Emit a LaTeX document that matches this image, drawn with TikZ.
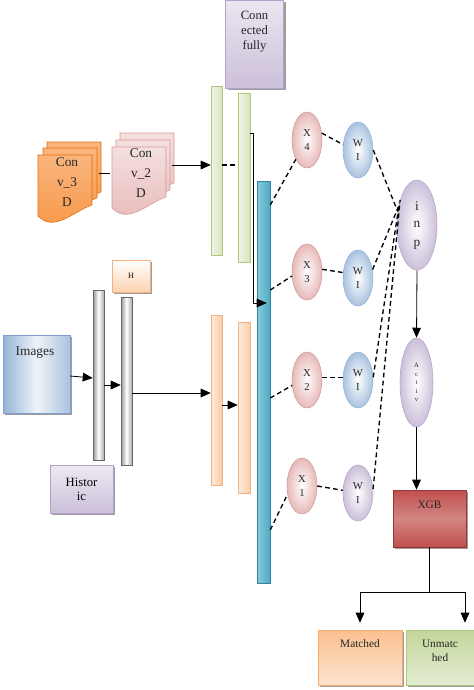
\documentclass[tikz,border=0pt]{standalone}
\usepackage{fontspec}
\setmainfont{Liberation Serif}
\usetikzlibrary{shapes.geometric, shadows, arrows.meta, calc}

\definecolor{lavfill}{HTML}{CCC0DA}
\definecolor{lavline}{HTML}{B3A2C7}
\definecolor{bluefill}{HTML}{95B3D7}
\definecolor{blueline}{HTML}{7F9FCF}
\definecolor{greenbar}{HTML}{D7E4BD}
\definecolor{greenline}{HTML}{9BBB59}
\definecolor{peachbar}{HTML}{FAC090}
\definecolor{peachline}{HTML}{F4B183}
\definecolor{cyanbar}{HTML}{4BACC6}
\definecolor{cyandark}{HTML}{31859C}
\definecolor{pinkfill}{HTML}{E6B9B8}
\definecolor{pinkline}{HTML}{D99694}
\definecolor{conv3}{HTML}{F79646}
\definecolor{conv3line}{HTML}{E46C0A}
\definecolor{xgbred}{HTML}{C0504D}
\definecolor{xgbline}{HTML}{953735}
\definecolor{unmfill}{HTML}{C3D69B}

\tikzset{
  panel/.style={draw, rectangle, inner sep=0pt, align=center,
    drop shadow={shadow xshift=1.5pt, shadow yshift=-1.5pt, fill=black!55, opacity=.7}},
  colbar/.style={draw, rectangle, inner sep=0pt,
    drop shadow={shadow xshift=1pt, shadow yshift=-1pt, fill=black!55, opacity=.5}},
  gbar/.style={colbar, left color=greenbar!35!white, right color=greenbar, draw=greenline!80},
  kbar/.style={colbar, left color=gray!80, right color=gray!65, middle color=white, draw=gray!80!black},
  obar/.style={colbar, left color=peachbar!30!white, right color=peachbar!80, draw=peachline},
  oval/.style={ellipse, draw, inner sep=0pt, minimum width=22.5pt, minimum height=42pt,
    align=center, font=\fontsize{8}{10}\selectfont, inner color=white, text=black!85},
  lbl/.style={inner sep=0pt, align=center, font=\fontsize{9.5}{11.25}\selectfont, text=black!85},
  arr/.style={-{Triangle[length=7.5pt,width=6.5pt]}, line width=0.6pt},
  dashline/.style={line width=1pt, dash pattern=on 3.5pt off 2.5pt},
}

\begin{document}
\begin{tikzpicture}[x=0.75pt, y=-0.75pt]
\useasboundingbox (0,0) rectangle (474,690);

% top box
\node[panel, minimum width=43.5pt, minimum height=66pt, top color=lavfill!40!white, bottom color=lavfill, draw=lavline] (full) at (254.5,44) {};
\node[lbl] (fullt) at (254.5,32) {Conn\\ected\\fully};

% stacked pages
\foreach \px/\py in {47/142,43/148,38/155}
  \path[draw=conv3line, top color=conv3!70!white, bottom color=conv3, shift={(\px,\py)}]
    (0,0) -- (54,0) -- (54,50) .. controls (36,56) and (16,78) .. (0,61) -- cycle;
\foreach \px/\py in {120/133,116/140,112/147}
  \path[draw=pinkline, top color=pinkfill!45!white, bottom color=pinkfill, shift={(\px,\py)}]
    (0,0) -- (54,0) -- (54,50) .. controls (36,56) and (16,78) .. (0,61) -- cycle;
\node[lbl, font=\fontsize{10}{15}\selectfont, minimum width=47.25pt, minimum height=60pt] (c3) at (67,182) {Con\\v\_3\\D};
\node[lbl, font=\fontsize{10}{15}\selectfont, minimum width=46.5pt, minimum height=60pt] (c2) at (141,173) {Con\\v\_2\\D};

% bars
\node[gbar, minimum width=8.25pt, minimum height=126.75pt] (g1) at (216.5,170.5) {};
\node[gbar, minimum width=9pt, minimum height=126.75pt] (g2) at (244,177.5) {};
\node[kbar, minimum width=8.25pt, minimum height=127.5pt] (k1) at (98.5,375) {};
\node[kbar, minimum width=8.25pt, minimum height=126pt] (k2) at (126.5,381) {};
\node[obar, minimum width=8.25pt, minimum height=127.5pt] (o1) at (216.5,400) {};
\node[obar, minimum width=9pt, minimum height=128.25pt] (o2) at (244,407.5) {};
\node[colbar, minimum width=9.75pt, minimum height=301.5pt, left color=cyanbar!65!white, right color=cyanbar, draw=cyandark] (cy) at (263.5,382) {};

% left boxes
\node[panel, minimum width=28.5pt, minimum height=24pt, top color=white, bottom color=peachbar!70, draw=peachline, font=\fontsize{6}{7}\selectfont] (hbox) at (131,276) {H};
\node[panel, minimum width=50.25pt, minimum height=58.5pt, left color=bluefill, right color=bluefill!80, middle color=bluefill!15!white, draw=blueline] (img) at (36.5,374) {};
\node[lbl, font=\fontsize{10}{12}\selectfont] (imgt) at (35,353) {Images};
\node[panel, minimum width=47.25pt, minimum height=36pt, top color=lavfill!35!white, bottom color=lavfill, draw=lavline, font=\fontsize{9.5}{10.5}\selectfont] (hist) at (81.5,489) {Histor\\ic};

% inputs and weights
\node[oval, outer color=pinkfill, draw=pinkline] (x4) at (307,140) {X\\4};
\node[oval, outer color=pinkfill, draw=pinkline] (x3) at (307,272) {X\\3};
\node[oval, outer color=pinkfill, draw=pinkline] (x2) at (307,380) {X\\2};
\node[oval, outer color=pinkfill, draw=pinkline] (x1) at (302,486) {X\\1};
\node[oval, outer color=bluefill!80, draw=bluefill] (w4) at (358,150) {W\\I};
\node[oval, outer color=bluefill!80, draw=bluefill] (w3) at (358,278) {W\\I};
\node[oval, outer color=bluefill!80, draw=bluefill] (w2) at (358,380) {W\\I};
\node[oval, outer color=lavfill, draw=lavline] (w1) at (358,493) {W\\I};
\node[oval, outer color=lavfill, draw=lavline, minimum width=30pt, minimum height=67.5pt, font=\fontsize{10}{13.5}\selectfont] (inp) at (417,225) {i\\n\\p};
\node[oval, outer color=lavfill, draw=lavline, minimum width=24.75pt, minimum height=66.75pt, font=\fontsize{5}{6.4}\selectfont] (act) at (416.5,382.5) {A\\c\\t\\i\\v};

% output boxes
\node[panel, minimum width=54.75pt, minimum height=42.75pt, top color=xgbred, bottom color=xgbred, middle color=xgbred!70!white, draw=xgbline] (xgb) at (429.5,518.5) {};
\node[lbl, font=\fontsize{8.5}{10}\selectfont] (xgbt) at (429.5,505) {XGB};
\node[panel, minimum width=63pt, minimum height=41.25pt, top color=peachbar, bottom color=peachbar!45!white, draw=conv3!80] (match) at (360,657.5) {};
\node[lbl, font=\fontsize{8.5}{10}\selectfont] (matcht) at (360,644) {Matched};
\node[panel, minimum width=51pt, minimum height=41.25pt, top color=unmfill, bottom color=unmfill!45!white, draw=greenline!80] (unmatch) at (440,657.5) {};
\node[lbl, font=\fontsize{8.5}{10}\selectfont] (unmatcht) at (440,651) {Unmatc\\hed};

% connectors
\coordinate (c2out) at ($(c2.east)+(0,-8)$);
\coordinate (g2out) at ($(g2.east)+(0,-44.5)$);
\coordinate (cyin) at ($(cy.west)+(10,-79)$);
\coordinate (k1out) at ($(k1.east)+(0,10)$);
\coordinate (k2out) at ($(k2.east)+(0,12)$);
\coordinate (o1out) at ($(o1.east)+(0,5)$);
\draw[line width=0.6pt] (c3.east |- c2.west) -- (c2.west);
\draw[arr] (c2out) -- (c2out -| g1.west);
\draw[dashline] (c2out -| g1.east) -- (c2out -| g2.west);
\draw[arr] (g2out) -- ++(3,0) |- (cyin);
\draw[arr] ($(img.east)+(0,2)$) -- ($(img.east -| k1.west)+(0,4)$);
\draw[arr] (k1out) -- (k1out -| k2.west);
\draw[arr] (k2out) -- (k2out -| o1.west);
\draw[arr] (o1out) -- (o1out -| o2.west);

\draw[dashline] ($(cy.east)+(0,-177)$) -- (x4.240);
\draw[dashline] ($(cy.east)+(0,-92)$) -- (x3.195);
\draw[dashline] ($(cy.east)+(0,16)$) -- (x2.200);
\draw[dashline] ($(cy.east)+(0,148)$) -- (x1.210);
\draw[dashline] (x4.25) -- (w4.160);
\draw[dashline] (x3.10) -- (w3.160);
\draw[dashline] (x2.10) -- (w2.170);
\draw[dashline] (x1.east) -- (w1.170);
\draw[dashline] (w4.east) -- (inp.145);
\draw[dashline] (w3.30) -- (inp.135);
\draw[dashline] (w2.10) -- (inp.128);
\draw[dashline] (w1.15) -- (inp.124);

\draw[arr] (inp.south) -- (act.north);
\draw[arr] (act.south) -- (act.south |- xgb.north);
\coordinate (split) at ($(xgb.south)+(0,45)$);
\coordinate (mtop) at ($(match.north)+(0,-7)$);
\coordinate (utop) at ($(unmatch.north)+(25,-7)$);
\draw[line width=0.6pt] (xgb.south) -- (split);
\draw[line width=0.6pt] (split -| mtop) -- (split -| utop);
\draw[arr] (split -| mtop) -- (mtop);
\draw[arr] (split -| utop) -- (utop);

\end{tikzpicture}
\end{document}
